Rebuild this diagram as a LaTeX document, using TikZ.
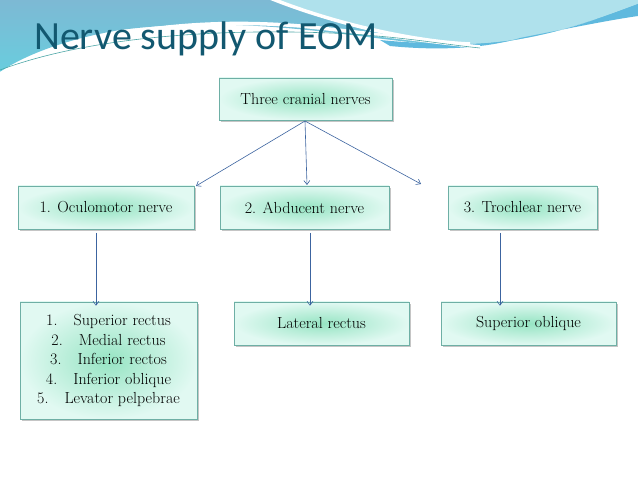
\documentclass[tikz,border=0pt]{standalone}
\usepackage{fontspec}
\newfontfamily\titlefont{Carlito}
\usetikzlibrary{shadows,arrows.meta}
\definecolor{titleblue}{RGB}{18,88,112}
\definecolor{arrowblue}{RGB}{60,100,160}
\definecolor{boxedge}{RGB}{110,175,165}
\definecolor{boxin}{RGB}{150,228,195}
\definecolor{boxout}{RGB}{225,249,242}
\definecolor{bgdark}{RGB}{125,185,212}
\definecolor{bglight}{RGB}{105,205,222}
\definecolor{cyanlight}{RGB}{175,225,236}
\definecolor{bandblue}{RGB}{95,185,222}
\tikzset{
  nbox/.style={draw=boxedge, line width=0.6pt, inner color=boxin, outer color=boxout,
    drop shadow={shadow xshift=1.8pt, shadow yshift=-1.8pt, opacity=0.45},
    font=\fontsize{16}{19.5}\selectfont, align=center, inner sep=0pt},
  conn/.style={draw=arrowblue, line width=0.6pt, -{Straight Barb[length=4pt,width=6pt]}}
}
\begin{document}
\begin{tikzpicture}[x=1pt,y=-1pt]
\useasboundingbox (0,0) rectangle (638,478);
\fill[white] (0,0) rectangle (638,478);
% top wave background
\shade[top color=bgdark, bottom color=bglight]
  (0,0) -- (638,0) -- (638,6) .. controls (560,32) and (500,46) .. (460,46)
  .. controls (380,44) and (260,12) .. (120,30) .. controls (60,40) and (20,58) .. (0,72) -- cycle;
\fill[cyanlight] (275,0) .. controls (340,28) and (420,44) .. (470,44)
  .. controls (540,42) and (600,18) .. (638,4) -- (638,0) -- cycle;
\fill[bandblue] (638,4) .. controls (600,18) and (540,42) .. (470,44)
  .. controls (430,44) and (400,42) .. (380,40) -- (390,46) .. controls (430,50) and (480,50) .. (520,38)
  .. controls (570,28) and (610,20) .. (638,16) -- cycle;
\draw[white, line width=3.5pt] (270,-2) .. controls (340,26) and (420,42) .. (470,44);
\draw[white, line width=3.5pt] (0,74) .. controls (70,36) and (180,16) .. (300,26) .. controls (380,34) and (430,42) .. (480,47);
\draw[teal!70, line width=0.6pt] (0,70) .. controls (80,40) and (200,28) .. (330,33) .. controls (400,36) and (440,44) .. (480,48);
\draw[white, line width=1.5pt] (0,78) .. controls (60,56) and (120,44) .. (180,38);
\node[font=\titlefont\fontsize{40}{42}\selectfont, text=titleblue, anchor=base west, inner sep=0pt] (title) at (34,50) {Nerve supply of EOM};
% boxes
\node[nbox, minimum width=173pt, minimum height=42pt] (top) at (305.5,99) {Three cranial nerves};
\node[nbox, minimum width=176pt, minimum height=43pt] (ocu) at (106,207.5) {1. Oculomotor nerve};
\node[nbox, minimum width=169pt, minimum height=43pt] (abd) at (304.5,207.5) {2. Abducent nerve};
\node[nbox, minimum width=149pt, minimum height=43pt] (tro) at (522.5,207.5) {3. Trochlear nerve};
\node[nbox, minimum width=177pt, minimum height=117pt] (list) at (108.5,360.5)
  {1.\quad Superior rectus\\2.\quad Medial rectus\\3.\quad Inferior rectos\\4.\quad Inferior oblique\\5.\quad Levator pelpebrae};
\node[nbox, minimum width=175pt, minimum height=43pt] (lat) at (321.5,323.5) {Lateral rectus};
\node[nbox, minimum width=175pt, minimum height=43pt] (sob) at (528.5,323.5) {Superior oblique};
% connectors
\coordinate (tb) at (305,121);
\coordinate (o1) at (96,233);
\coordinate (a1) at (310,233);
\coordinate (t1) at (500,233);
\draw[conn] (tb) -- (196,186);
\draw[conn] (tb) -- (307,185);
\draw[conn] (tb) -- (421,184);
\draw[conn] (o1) -- ([yshift=-4pt]o1 |- list.north);
\draw[conn] (a1) -- ([yshift=-4pt]a1 |- lat.north);
\draw[conn] (t1) -- ([yshift=-4pt]t1 |- sob.north);
\end{tikzpicture}
\end{document}
